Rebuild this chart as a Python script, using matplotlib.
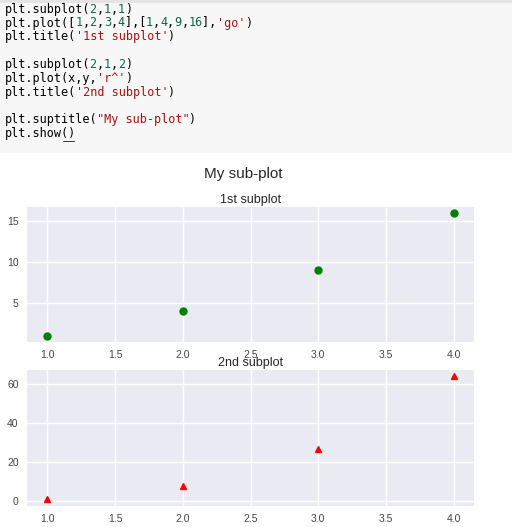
import matplotlib.pyplot as plt
from matplotlib.patches import Rectangle

W, H = 512, 527
X = [1, 2, 3, 4]
Y_SQUARES = [1, 4, 9, 16]
Y_CUBES = [1, 8, 27, 64]

# code cell shown above the output, as (text, kind) tokens per line
CODE = [
    [("plt.subplot(", "p"), ("2", "n"), (",", "p"), ("1", "n"), (",", "p"), ("1", "n"), (")", "p")],
    [("plt.plot([", "p"), ("1", "n"), (",", "p"), ("2", "n"), (",", "p"), ("3", "n"), (",", "p"), ("4", "n"),
     ("],[", "p"), ("1", "n"), (",", "p"), ("4", "n"), (",", "p"), ("9", "n"), (",", "p"), ("16", "n"),
     ("],", "p"), ("'go'", "s"), (")", "p")],
    [("plt.title(", "p"), ("'1st subplot'", "s"), (")", "p")],
    [],
    [("plt.subplot(", "p"), ("2", "n"), (",", "p"), ("1", "n"), (",", "p"), ("2", "n"), (")", "p")],
    [("plt.plot(x,y,", "p"), ("'r^'", "s"), (")", "p")],
    [("plt.title(", "p"), ("'2nd subplot'", "s"), (")", "p")],
    [],
    [("plt.suptitle(", "p"), ('"My sub-plot"', "s"), (")", "p")],
    [("plt.show()", "p")],
]
CODE_COLORS = {"p": "#000000", "n": "#116644", "s": "#aa1111"}

plt.style.use('seaborn-v0_8-darkgrid')
plt.rcParams['font.family'] = ['Liberation Sans', 'DejaVu Sans']

fig = plt.figure(figsize=(W / 100, H / 100), dpi=100)

# grey code cell
fig.patches.append(Rectangle((0, 1 - 153 / H), 1, 153 / H, transform=fig.transFigure,
                             facecolor='#f7f7f7', edgecolor='none', zorder=0))
fig.patches.append(Rectangle((0, 1 - 3 / H), 1, 3 / H, transform=fig.transFigure,
                             facecolor='#e4e4e4', edgecolor='none', zorder=0))

char_w = 7.05
for i, line in enumerate(CODE):
    base = 12.7 + 13.8 * i
    col = 0
    for text, kind in line:
        fig.text((5 + col * char_w) / W, 1 - base / H, text, family='DejaVu Sans Mono',
                 fontsize=8.45, color=CODE_COLORS[kind], va='baseline', ha='left')
        col += len(text)
# bracket match underline under "()"
fig.add_artist(plt.Line2D([(5 + 8.2 * char_w) / W, (5 + 9.8 * char_w) / W],
                          [1 - 140.5 / H, 1 - 140.5 / H], color='#333333', lw=0.7))

ax1 = fig.add_axes([27 / W, 1 - 342 / H, 447 / W, 135 / H])
ax1.plot(X, Y_SQUARES, 'go', markersize=5)
ax1.set_title('1st subplot', fontsize=9, color='#262626', pad=3)

ax2 = fig.add_axes([27 / W, 1 - 505.5 / H, 447 / W, 135.5 / H])
ax2.plot(X, Y_CUBES, 'r^', markersize=5)
ax2.set_title('2nd subplot', fontsize=9, color='#262626', pad=3)

for ax in (ax1, ax2):
    ax.tick_params(labelsize=7.5, labelcolor='#444444', length=0, pad=6)
    ax.grid(True, color='white', linewidth=1)

fig.suptitle('My sub-plot', x=243 / W, y=1 - 174 / H, va='center', fontsize=11, color='#262626')

fig.savefig('out.png', dpi=100)
